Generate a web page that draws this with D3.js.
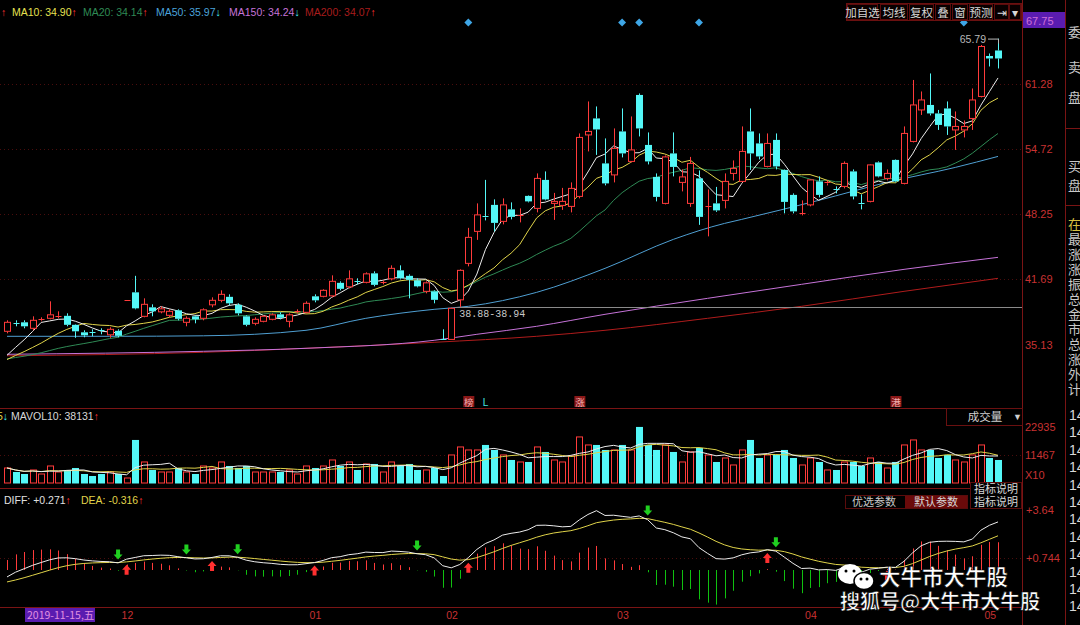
<!DOCTYPE html>
<html><head><meta charset="utf-8">
<script src="https://cdn.jsdelivr.net/npm/d3@7"></script>
<style>
body{margin:0;background:#000;overflow:hidden}
svg{display:block}
text{font-family:"Liberation Sans",Arial,sans-serif}
.cjk{font-family:"Noto Sans CJK SC","Noto Sans",sans-serif}
</style>
</head><body>
<svg id="c" width="1080" height="625"></svg>
<script>
// ---------------- DATA ----------------
const opens=[36.5,37.35,37.4,36.8,37.6,37.8,37.95,38.05,37.15,36.4,36.45,36.6,36.15,36.55,39.65,40.4,38.0,38.9,38.45,38.1,
38.6,37.4,38.0,37.8,39.15,39.6,39.95,39.15,38.0,37.3,37.5,37.7,38.2,37.5,38.45,38.4,40.0,40.0,40.05,41.35,
40.95,41.55,41.4,42.3,41.35,41.75,42.6,42.05,41.6,40.5,40.5,35.69,35.69,39.65,43.3,46.5,48.0,49.15,47.5,48.7,
48.05,50.05,48.8,51.65,49.3,49.1,49.0,50.0,56.15,57.8,53.3,52.15,56.5,53.5,60.15,55.15,51.95,49.3,54.3,51.4,
49.3,51.8,48.95,49.3,49.6,52.3,51.5,56.5,55.3,53.0,55.65,52.65,50.15,48.25,49.15,51.5,51.3,50.7,51.0,52.5,
49.3,49.5,53.4,51.8,53.65,51.3,55.5,58.65,59.15,58.3,58.8,56.65,56.65,57.8,60.0,64.05,64.6];
const highs=[37.6,37.6,37.6,38.0,37.9,39.5,38.5,38.3,37.2,36.6,36.7,36.8,36.9,36.7,39.65,42.05,39.8,39.2,39.0,38.7,
38.7,38.0,38.1,38.8,39.9,40.6,40.2,39.3,38.1,37.9,38.1,38.3,38.4,38.3,38.7,39.5,40.2,40.7,42.1,41.5,
42.6,41.8,42.4,42.5,41.6,43.1,43.1,42.2,41.8,41.5,40.6,36.7,38.88,42.7,46.85,49.3,51.65,49.7,49.8,49.4,
48.8,50.1,52.3,52.5,50.35,50.85,51.4,56.3,59.5,59.0,55.8,56.8,58.8,58.0,60.3,56.4,52.3,54.1,56.4,52.7,
53.95,52.6,50.7,50.95,52.3,53.6,57.0,58.8,56.3,56.3,56.3,52.7,50.3,49.6,51.7,52.0,51.6,51.0,53.5,52.7,
50.2,53.2,53.5,52.7,53.7,57.0,61.65,60.5,62.3,58.65,59.5,58.5,57.6,60.8,65.15,64.3,65.79];
const lows=[36.3,37.0,36.8,36.6,37.5,37.7,37.8,37.0,35.85,35.9,36.0,36.2,35.85,35.9,39.65,38.7,37.9,38.0,38.3,37.9,
37.6,37.0,37.3,37.6,38.9,39.4,39.1,38.1,37.0,37.1,37.4,37.6,37.7,36.9,38.3,38.3,39.4,39.9,39.9,40.6,
40.8,41.2,41.3,41.0,41.2,41.6,41.7,39.8,40.9,40.3,39.3,35.69,35.69,38.94,43.0,45.65,47.6,46.5,47.2,47.7,
47.4,49.4,48.4,49.6,47.65,48.65,48.4,49.8,54.5,54.15,51.1,51.4,53.9,53.4,56.0,53.2,49.5,49.2,52.0,50.5,
48.95,47.15,46.0,48.45,48.8,51.6,51.4,52.65,53.7,52.9,52.7,48.3,48.3,48.1,49.0,49.9,51.1,50.3,50.8,49.7,
48.7,49.4,51.9,51.6,51.4,51.2,55.4,58.15,58.1,56.65,56.15,54.65,55.9,56.65,59.9,63.0,62.8];
const closes=[37.4,37.25,37.0,37.6,37.7,38.15,38.05,37.15,36.5,36.1,36.35,36.5,36.7,36.05,39.65,38.8,39.2,38.5,38.75,38.5,
37.75,37.8,37.7,38.65,39.6,40.2,39.3,38.3,37.15,37.7,38.0,38.15,37.85,38.15,38.5,39.3,39.6,40.6,41.5,40.75,
41.75,41.45,42.25,41.15,41.45,42.8,41.8,41.65,41.0,41.35,39.65,35.69,38.8,42.6,45.9,48.15,47.9,47.35,49.15,47.95,
48.15,49.5,51.8,49.7,49.5,49.5,50.8,55.9,56.5,56.7,51.3,54.8,54.3,54.65,56.8,53.5,49.95,53.95,52.95,51.95,
53.3,47.95,49.05,48.6,51.5,52.8,54.5,54.3,54.0,55.3,53.0,49.45,48.5,48.3,51.65,50.15,51.4,50.6,53.3,50.0,
49.2,53.15,52.0,52.3,51.5,56.3,59.15,59.65,58.3,57.15,57.0,57.0,57.0,59.65,65.0,63.8,63.8];
const volumes=[6150,4510,3690,5330,3690,6970,4510,5330,6150,3690,2870,3690,4510,3690,2050,17630,8610,5330,4510,4510,
6150,4510,3690,6970,6150,8610,6970,6150,6970,4510,4510,4510,4510,5330,3690,6970,6150,6970,9430,6970,
8610,5330,7790,7790,4510,8610,6970,7790,5330,5330,6150,2870,11480,14760,13530,13530,15580,13530,11480,9430,
8610,8610,14760,12710,9430,8610,11070,18860,15580,15580,13530,13530,15580,13530,22960,15580,13530,15580,12710,8610,
12710,14350,11480,8610,10250,7380,13530,17630,10250,11480,11480,13530,10250,7380,10250,8610,5330,5330,8610,8610,
6970,10250,8610,6150,8610,15580,17630,13530,13530,10250,11480,9430,8610,11480,15580,10250,9430];
// closes before the first visible day (for the moving averages)
const priorCloses=[34.6,34.4,34.3,34.0,33.8,33.7,33.5,33.4,33.2,33.3,33.1,33.2,33.4,33.3,33.2,33.3,33.2,33.4,33.2];
const macdSeed={ema12:33.4, ema26:34.2, dea:-0.8};
// long moving averages
const ma50Days=[0,12,23,35,42,50,54,62,70,78,84,86,95,103,111,116];
const ma50Vals=[36.0,36.0,36.05,36.6,37.8,38.7,39.0,40.4,42.8,45.7,47.3,47.7,49.6,51.4,52.9,54.0];
const ma150Days=[0,23,35,50,55,62,70,82,93,105,116];
const ma150Vals=[34.2,34.5,34.8,35.6,36.2,37.0,38.2,39.8,41.2,42.7,43.9];
const ma200Days=[0,23,35,50,62,70,82,93,105,116];
const ma200Vals=[34.05,34.4,34.8,35.4,36.0,36.6,37.8,39.0,40.5,41.8];
const priceTicks=[61.28,54.72,48.25,41.69,35.13];
const priceTop=67.75;
const volTicks=[22935,11467];
const macdTicks=[3.64,0.744];
const monthLabels=["12","01","02","03","04","05"];
const monthStarts=[14,36,52,72,94,115];
const diamondDays=[54,72,74,81,112];
const tagLabels=["榜","L","涨","港"];
const tagDays=[54,56,67,104];
const gapLow=38.88, gapHigh=38.94, gapDay=52;
const cursorLabel="2019-11-15,五";
// legend: [text, colour, arrow, arrow colour, x]
const legend=[["MA10: 34.90","#e6e050","↑","#ff3030",12],["MA20: 34.14","#2f8a55","↑","#ff3030",83],
["MA50: 35.97","#4aa3dc","↓","#40e8f0",156],["MA150: 34.24","#c673d8","↓","#40e8f0",229],["MA200: 34.07","#a81c1c","↑","#ff3030",305]];
const toolbar=[["加自选",848,878],["均线",881,908],["复权",910,934],["叠",936,951],["窗",953,968],["预测",970,993],["⇥",995,1009],["▾",1010,1021]];
const sideTop=[["委",37],["卖",72],["盘",102],["买",171],["盘",190],["在",229],["最",244],["涨",259],["涨",274],["振",289],["总",304],["金",319],["市",334],["总",349],["涨",364],["外",379],["计",394]];

// ---------------- SETUP ----------------
const N=closes.length, days=d3.range(N);
const RED="#ff3b3b", CYAN="#54f7f7", GREEN="#10c010";
const svg=d3.select("#c");
svg.append("rect").attr("width",1080).attr("height",625).attr("fill","#000");
const x=d3.scalePoint().domain(days).range([7,998]);
const yP=d3.scaleLinear().domain([35.13,67.75]).range([345,19]);
const yV=d3.scaleLinear().domain([0,22935]).range([483,427]);
const yM=d3.scaleLinear().domain([0,3.64]).range([570,510]);
const isUp=i=>closes[i]>opens[i]||(closes[i]===opens[i]&&(i===0||closes[i]>=closes[i-1]));
const defs=svg.append("defs");
[["cp",0,12,1022,396],["cv",0,409,1022,79],["cm",0,489,1022,118]].forEach(([id,a,b,w,h])=>
  defs.append("clipPath").attr("id",id).append("rect").attr("x",a).attr("y",b).attr("width",w).attr("height",h));

function label(px,py,parts,size){
  const t=svg.append("text").attr("x",px).attr("y",py).attr("font-size",size||10.5);
  parts.forEach(([s,c])=>t.append("tspan").attr("fill",c).text(s));
  return t;
}

// grid
const grid=svg.append("g").attr("stroke","#4a0d0d").attr("stroke-dasharray","1,3");
priceTicks.slice(0,4).forEach(v=>grid.append("line").attr("x1",0).attr("x2",1022).attr("y1",Math.round(yP(v))+0.5).attr("y2",Math.round(yP(v))+0.5));
grid.append("line").attr("x1",0).attr("x2",1022).attr("y1",Math.round(yV(volTicks[1]))+0.5).attr("y2",Math.round(yV(volTicks[1]))+0.5);
grid.append("line").attr("x1",0).attr("x2",1022).attr("y1",Math.round(yM(macdTicks[1]))+0.5).attr("y2",Math.round(yM(macdTicks[1]))+0.5);

// frame lines
const fr=svg.append("g").attr("stroke","#7a1414").attr("stroke-width",1);
fr.append("line").attr("x1",1022.5).attr("x2",1022.5).attr("y1",0).attr("y2",625);
fr.append("line").attr("x1",1065.5).attr("x2",1065.5).attr("y1",0).attr("y2",625);
[408.5,488.5,607.5].forEach(y=>fr.append("line").attr("x1",0).attr("x2",1022).attr("y1",y).attr("y2",y));
[128.5,205.5].forEach(y=>fr.append("line").attr("x1",1066).attr("x2",1080).attr("y1",y).attr("y2",y));

// ---------------- PRICE ----------------
const pg=svg.append("g").attr("clip-path","url(#cp)");
const full=priorCloses.concat(closes), P=priorCloses.length;
function ma(n){return days.map(i=>d3.mean(full.slice(Math.max(0,P+i-n+1),P+i+1)));}
const line=d3.line().x((d,i)=>x(i)).y(d=>yP(d));
const sparse=d3.line().curve(d3.curveMonotoneX).x(d=>x(d[0])).y(d=>yP(d[1]));
pg.append("path").datum(d3.zip(ma200Days,ma200Vals)).attr("d",sparse).attr("fill","none").attr("stroke","#b01c1c");
pg.append("path").datum(d3.zip(ma150Days,ma150Vals)).attr("d",sparse).attr("fill","none").attr("stroke","#c673d8");
pg.append("path").datum(d3.zip(ma50Days,ma50Vals)).attr("d",sparse).attr("fill","none").attr("stroke","#4f9fd2");
pg.append("line").attr("x1",x(gapDay)+4).attr("x2",1022).attr("y1",Math.round(yP(gapHigh))+0.5).attr("y2",Math.round(yP(gapHigh))+0.5).attr("stroke","#8a8a8a");
pg.append("text").attr("x",x(gapDay)+8).attr("y",yP(gapHigh)+10).attr("fill","#c8c8c8").attr("font-size",10).style("font-family","'Liberation Mono',monospace").text(gapLow.toFixed(2)+"-"+gapHigh.toFixed(2));
[[20,"#2f8a55"],[10,"#e0d44a"],[5,"#ececec"]].forEach(([n,c])=>
  pg.append("path").datum(ma(n)).attr("d",line).attr("fill","none").attr("stroke",c).attr("stroke-width",1));
const cg=pg.append("g");
days.forEach(i=>{
  const up=isUp(i), col=up?RED:CYAN, cx=Math.round(x(i))+0.5;
  const top=yP(Math.max(opens[i],closes[i])), bot=yP(Math.min(opens[i],closes[i]));
  cg.append("line").attr("x1",cx).attr("x2",cx).attr("y1",yP(highs[i])).attr("y2",top).attr("stroke",col);
  cg.append("line").attr("x1",cx).attr("x2",cx).attr("y1",bot).attr("y2",yP(lows[i])).attr("stroke",col);
  if(bot-top<1.2){
    cg.append("line").attr("x1",cx-3).attr("x2",cx+3).attr("y1",Math.round(top)+0.5).attr("y2",Math.round(top)+0.5).attr("stroke",col);
  } else if(up){
    cg.append("rect").attr("x",cx-3).attr("y",top).attr("width",6).attr("height",bot-top).attr("fill","#000").attr("stroke",col);
  } else {
    cg.append("rect").attr("x",cx-3.5).attr("y",top).attr("width",7).attr("height",bot-top).attr("fill",col);
  }
});
const hi=d3.maxIndex(highs);
svg.append("text").attr("x",x(hi)-12).attr("y",yP(highs[hi])+4).attr("text-anchor","end").attr("fill","#b8b8b8").attr("font-size",10.5).text(highs[hi].toFixed(2));
svg.append("path").attr("d",`M${x(hi)-10},${yP(highs[hi])+0.5}H${x(hi)+0.5}V${yP(highs[hi])+5}`).attr("fill","none").attr("stroke","#b8b8b8");
diamondDays.forEach(d=>svg.append("rect").attr("x",-2.8).attr("y",-2.8).attr("width",5.6).attr("height",5.6)
  .attr("transform",`translate(${x(d)},22.5) rotate(45)`).attr("fill","#3ea6e6"));
tagLabels.forEach((t,k)=>{
  const cx=x(tagDays[k]);
  if(t==="L"){svg.append("text").attr("x",cx).attr("y",406).attr("text-anchor","middle").attr("fill","#40e0e0").attr("font-size",10).text(t);}
  else{
    svg.append("rect").attr("x",cx-5).attr("y",396).attr("width",11).attr("height",11).attr("fill","#8a1818");
    svg.append("text").attr("class","cjk").attr("x",cx+0.5).attr("y",405.5).attr("text-anchor","middle").attr("fill","#f0b0b0").attr("font-size",9.5).text(t);
  }
});
// legend
label(1,16,[["↑","#ff3030"]]);
legend.forEach(([t,c,a,ac,px])=>label(px,16,[[t,c],[a,ac]]));
// toolbar
svg.append("rect").attr("x",846.5).attr("y",3.5).attr("width",175).attr("height",17).attr("fill","none").attr("stroke","#6a1010");
toolbar.forEach(([t,a,b])=>{
  svg.append("rect").attr("x",a-0.5).attr("y",4.5).attr("width",b-a).attr("height",15).attr("fill","#080000").attr("stroke","#5a0c0c");
  svg.append("text").attr("class","cjk").attr("x",(a+b)/2-0.5).attr("y",16.5).attr("text-anchor","middle").attr("fill","#d6d6d6").attr("font-size",11.5).text(t);
});
// right axis
svg.append("rect").attr("x",1023).attr("y",12).attr("width",42).attr("height",16).attr("fill","#5a1cb0");
svg.append("text").attr("x",1026).attr("y",24.5).attr("fill","#d070d8").attr("font-size",11).text(priceTop.toFixed(2));
priceTicks.forEach(v=>svg.append("text").attr("x",1025).attr("y",yP(v)+4).attr("fill","#c83232").attr("font-size",11).text(v.toFixed(2)));
sideTop.forEach(([t,y])=>svg.append("text").attr("class","cjk").attr("x",1068).attr("y",y).attr("fill",t==="在"?"#d8c040":"#c8c8c8").attr("font-size",13).text(t));
d3.range(12).forEach(k=>svg.append("text").attr("x",1069).attr("y",420+k*17.4).attr("fill","#d8d8d8").attr("font-size",14).text("14"));

// ---------------- VOLUME ----------------
const vg=svg.append("g").attr("clip-path","url(#cv)");
days.forEach(i=>{
  const up=isUp(i), col=up?RED:CYAN, cx=Math.round(x(i))+0.5, t=yV(volumes[i]);
  if(up) vg.append("rect").attr("x",cx-3).attr("y",t).attr("width",6).attr("height",483-t).attr("fill","#000").attr("stroke",col);
  else vg.append("rect").attr("x",cx-3.5).attr("y",t).attr("width",7).attr("height",483.5-t).attr("fill",col);
});
function vma(n){return days.map(i=>d3.mean(volumes.slice(Math.max(0,i-n+1),i+1)));}
const vline=d3.line().x((d,i)=>x(i)).y(d=>yV(d));
vg.append("path").datum(vma(10)).attr("d",vline).attr("fill","none").attr("stroke","#e0d44a");
vg.append("path").datum(vma(5)).attr("d",vline).attr("fill","none").attr("stroke","#ececec");
label(-3,420,[["5","#e0d44a"],["↓ ","#40e8f0"],["MAVOL10: 38131","#d8d8d8"],["↑","#ff3030"]]);
svg.append("rect").attr("x",946.5).attr("y",408.5).attr("width",76).attr("height",17).attr("fill","#000").attr("stroke","#6a1010");
svg.append("text").attr("class","cjk").attr("x",985).attr("y",421).attr("text-anchor","middle").attr("fill","#d0d0d0").attr("font-size",11.5).text("成交量");
svg.append("text").attr("x",1013).attr("y",420).attr("fill","#d0d0d0").attr("font-size",9).text("▼");
volTicks.forEach(v=>svg.append("text").attr("x",1025).attr("y",yV(v)+4).attr("fill","#c83232").attr("font-size",11).text(v));
svg.append("text").attr("x",1025).attr("y",479).attr("fill","#c83232").attr("font-size",11).text("X10");

// ---------------- MACD ----------------
let e12=macdSeed.ema12,e26=macdSeed.ema26,dea=macdSeed.dea;
const diffs=[],deas=[],hist=[];
closes.forEach(c=>{e12+=(c-e12)*2/13;e26+=(c-e26)*2/27;const d=e12-e26;dea+=(d-dea)*2/10;diffs.push(d);deas.push(dea);hist.push(2*(d-dea));});
const mg=svg.append("g").attr("clip-path","url(#cm)");
days.forEach(i=>mg.append("line").attr("x1",Math.round(x(i))+0.5).attr("x2",Math.round(x(i))+0.5)
  .attr("y1",yM(0)).attr("y2",yM(hist[i])).attr("stroke",hist[i]>=0?RED:GREEN));
const mline=d3.line().x((d,i)=>x(i)).y(d=>yM(d));
mg.append("path").datum(deas).attr("d",mline).attr("fill","none").attr("stroke","#e0d44a");
mg.append("path").datum(diffs).attr("d",mline).attr("fill","none").attr("stroke","#ececec");
days.slice(1).forEach(i=>{
  const cx=x(i);
  if(diffs[i-1]<=deas[i-1]&&diffs[i]>deas[i]){
    const cy=yM(deas[i])+3;
    mg.append("path").attr("d",`M${cx},${cy}l4.5,5h-2.5v5h-4v-5h-2.5z`).attr("fill","#ff3030");
  } else if(diffs[i-1]>=deas[i-1]&&diffs[i]<deas[i]){
    const cy=yM(deas[i])-3;
    mg.append("path").attr("d",`M${cx},${cy}l4.5,-5h-2.5v-5h-4v5h-2.5z`).attr("fill","#20d020");
  }
});
label(4,504,[["DIFF: +0.271","#e0e0e0"],["↑","#ff3030"]]);
label(81,504,[["DEA: -0.316","#e0d44a"],["↑","#ff3030"]]);
svg.append("rect").attr("x",845.5).attr("y",495.5).attr("width",122).attr("height",13).attr("fill","#000").attr("stroke","#5a0c0c");
svg.append("rect").attr("x",905).attr("y",496).attr("width",62).attr("height",12).attr("fill","#6a0a0a");
svg.append("text").attr("class","cjk").attr("x",874).attr("y",506).attr("text-anchor","middle").attr("fill","#c8c8c8").attr("font-size",11).text("优选参数");
svg.append("text").attr("class","cjk").attr("x",936).attr("y",506).attr("text-anchor","middle").attr("fill","#d8d8d8").attr("font-size",11).text("默认参数");
svg.append("rect").attr("x",970.5).attr("y",482.5).attr("width",51).attr("height",26).attr("fill","#000").attr("stroke","#5a0c0c");
svg.append("text").attr("class","cjk").attr("x",996).attr("y",493).attr("text-anchor","middle").attr("fill","#d8d8d8").attr("font-size",11).text("指标说明");
svg.append("text").attr("class","cjk").attr("x",996).attr("y",506).attr("text-anchor","middle").attr("fill","#d8d8d8").attr("font-size",11).text("指标说明");
svg.append("text").attr("x",1026).attr("y",yM(macdTicks[0])+4).attr("fill","#c83232").attr("font-size",11).text("+"+macdTicks[0].toFixed(2));
svg.append("text").attr("x",1026).attr("y",yM(macdTicks[1])+4).attr("fill","#c83232").attr("font-size",11).text("+"+macdTicks[1].toFixed(3));

// ---------------- X AXIS ----------------
svg.append("rect").attr("x",25).attr("y",608).attr("width",70).attr("height",14).attr("fill","#5a1cb0");
svg.append("text").attr("class","cjk").attr("x",27).attr("y",619).attr("fill","#e090e0").attr("font-size",10.5).text(cursorLabel);
monthLabels.forEach((m,k)=>svg.append("text").attr("x",x(monthStarts[k])-5).attr("y",619).attr("fill","#c83232").attr("font-size",10.5).text(m));

// ---------------- WATERMARK ----------------
const wm=svg.append("g");
wm.append("ellipse").attr("cx",850).attr("cy",574).attr("rx",12).attr("ry",10).attr("fill","#fff");
wm.append("ellipse").attr("cx",864).attr("cy",581).attr("rx",10).attr("ry",8.5).attr("fill","#fff").attr("stroke","#000").attr("stroke-width",1.5);
[[846,571],[854,571],[861,579],[867,579]].forEach(([a,b])=>wm.append("circle").attr("cx",a).attr("cy",b).attr("r",1.5).attr("fill","#000"));
wm.append("text").attr("class","cjk").attr("x",879).attr("y",585).attr("fill","#fff").attr("font-size",21.5).attr("font-weight","bold")
  .attr("stroke","#000").attr("stroke-width",0.6).text("大牛市大牛股");
wm.append("text").attr("class","cjk").attr("x",840).attr("y",609).attr("fill","#fff").attr("font-size",20).attr("font-weight","bold")
  .attr("stroke","#000").attr("stroke-width",0.6).text("搜狐号@大牛市大牛股");
</script>
</body></html>
